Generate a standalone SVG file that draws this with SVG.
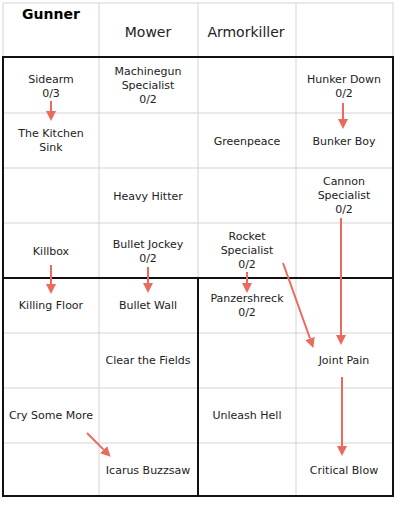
<svg xmlns="http://www.w3.org/2000/svg" width="400" height="505" viewBox="0 0 400 505">
<style>
.grid{stroke:#d3d3d3;stroke-width:1;fill:none}
.thick{stroke:#111;stroke-width:2;fill:none}
text{font-family:"DejaVu Sans",Verdana,sans-serif;font-size:11px;fill:#222;text-anchor:middle}
.hd{font-size:14px}
.bold{font-weight:bold;font-size:14px;fill:#000}
.arr{stroke:#ea6a5e;stroke-width:2;fill:none;marker-end:url(#ah)}
</style>
<defs>
<marker id="ah" markerUnits="userSpaceOnUse" markerWidth="10" markerHeight="10" viewBox="0 0 10 10" refX="0" refY="5" orient="auto">
<path d="M0,0 L10,5 L0,10 z" fill="#ea6a5e"/>
</marker>
</defs>
<rect width="400" height="505" fill="#fff"/>
<g id="grid">
<rect class="grid" x="3" y="3" width="390" height="493"/>
<line class="grid" x1="99" y1="3" x2="99" y2="496"/>
<line class="grid" x1="198" y1="3" x2="198" y2="496"/>
<line class="grid" x1="296" y1="3" x2="296" y2="496"/>
<line class="grid" x1="3" y1="113" x2="393" y2="113"/>
<line class="grid" x1="3" y1="168" x2="393" y2="168"/>
<line class="grid" x1="3" y1="223" x2="393" y2="223"/>
<line class="grid" x1="3" y1="333" x2="393" y2="333"/>
<line class="grid" x1="3" y1="388" x2="393" y2="388"/>
<line class="grid" x1="3" y1="443" x2="393" y2="443"/>
<rect class="thick" x="3" y="57" width="390" height="439"/>
<line class="thick" x1="3" y1="278" x2="393" y2="278"/>
<line class="thick" x1="198" y1="278" x2="198" y2="496"/>
</g>
<g id="headers">
<text class="bold" x="51" y="19">Gunner</text>
<text class="hd" x="148" y="37">Mower</text>
<text class="hd" x="246" y="37">Armorkiller</text>
</g>
<g id="sidearm"><text x="51" y="83">Sidearm</text><text x="51" y="97">0/3</text></g>
<g id="machinegun"><text x="148" y="75">Machinegun</text><text x="148" y="89">Specialist</text><text x="148" y="103">0/2</text></g>
<g id="hunker"><text x="344" y="83">Hunker Down</text><text x="344" y="97">0/2</text></g>
<g id="kitchen"><text x="51" y="137">The Kitchen</text><text x="51" y="151">Sink</text></g>
<g id="greenpeace"><text x="247" y="145">Greenpeace</text></g>
<g id="bunker"><text x="344" y="145">Bunker Boy</text></g>
<g id="heavy"><text x="148" y="200">Heavy Hitter</text></g>
<g id="cannon"><text x="344" y="185">Cannon</text><text x="344" y="199">Specialist</text><text x="344" y="213">0/2</text></g>
<g id="killbox"><text x="51" y="255">Killbox</text></g>
<g id="jockey"><text x="148" y="248">Bullet Jockey</text><text x="148" y="262">0/2</text></g>
<g id="rocket"><text x="247" y="240">Rocket</text><text x="247" y="254">Specialist</text><text x="247" y="268">0/2</text></g>
<g id="killingfloor"><text x="51" y="309">Killing Floor</text></g>
<g id="bulletwall"><text x="148" y="309">Bullet Wall</text></g>
<g id="panzer"><text x="247" y="302">Panzershreck</text><text x="247" y="316">0/2</text></g>
<g id="clear"><text x="148" y="364">Clear the Fields</text></g>
<g id="joint"><text x="344" y="364">Joint Pain</text></g>
<g id="cry"><text x="51" y="419">Cry Some More</text></g>
<g id="unleash"><text x="247" y="419">Unleash Hell</text></g>
<g id="icarus"><text x="148" y="474">Icarus Buzzsaw</text></g>
<g id="critical"><text x="344" y="474">Critical Blow</text></g>
<g id="connectors">
<line class="arr" x1="51" y1="101" x2="51" y2="111"/>
<line class="arr" x1="343" y1="103" x2="343" y2="119"/>
<line class="arr" x1="51" y1="265" x2="51" y2="284"/>
<line class="arr" x1="148" y1="267" x2="148" y2="283"/>
<line class="arr" x1="247" y1="272" x2="247" y2="283"/>
<line class="arr" x1="283" y1="263" x2="310" y2="338.5"/>
<line class="arr" x1="341" y1="218" x2="341" y2="335"/>
<line class="arr" x1="342" y1="377" x2="342" y2="446"/>
<line class="arr" x1="87" y1="433" x2="103.6" y2="449.6"/>
</g>
</svg>
